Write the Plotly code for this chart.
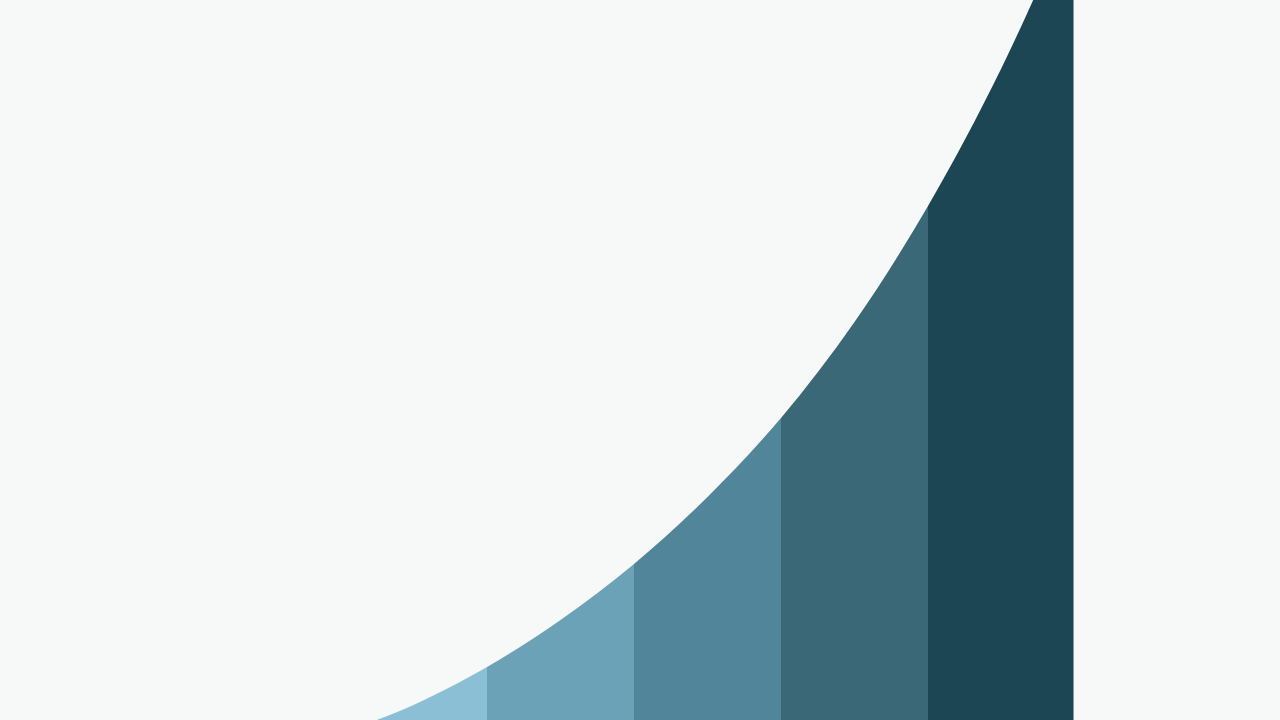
import plotly.graph_objects as go

# Curve readings (x in period units, y in value units)
curve_x = [0.25, 0.5, 1.0, 1.5, 2.0, 2.5, 3.0, 3.5, 4.0, 4.5, 5.0]
curve_y = [0, 15, 53, 100, 156, 223, 302, 398, 514, 652, 815]

band_edges = [0.0, 1.0, 2.0, 3.0, 4.0, 4.99]
band_colors = ["#8bbfd6", "#6ba2b8", "#51859a", "#3a6877", "#1d4654"]

X_MIN, X_MAX = -340 / 147, 940 / 147
span = X_MAX - X_MIN

fig = go.Figure()
layout_axes = {}
for i, color in enumerate(band_colors):
    lo, hi = band_edges[i], band_edges[i + 1]
    name = "x" if i == 0 else f"x{i + 1}"
    key = "xaxis" if i == 0 else f"xaxis{i + 1}"
    layout_axes[key] = dict(
        domain=[(lo - X_MIN) / span, (hi - X_MIN) / span],
        range=[lo, hi], visible=False, fixedrange=True, anchor="y",
    )
    fig.add_trace(go.Scatter(
        x=curve_x, y=curve_y, xaxis=name, yaxis="y",
        mode="lines", fill="tozeroy",
        line=dict(width=0, shape="spline", smoothing=1.0, color=color),
        fillcolor=color, hoverinfo="skip", showlegend=False,
    ))

fig.update_layout(
    width=1280, height=720,
    margin=dict(l=0, r=0, t=0, b=0),
    paper_bgcolor="#f7f8f8", plot_bgcolor="#f7f8f8",
    yaxis=dict(range=[0, 720], visible=False, fixedrange=True),
    showlegend=False,
    **layout_axes,
)
fig.write_html(
    "out.html",
    config={"displayModeBar": False},
    post_script="document.body.style.margin='0';document.body.style.background='#f7f8f8';",
)
